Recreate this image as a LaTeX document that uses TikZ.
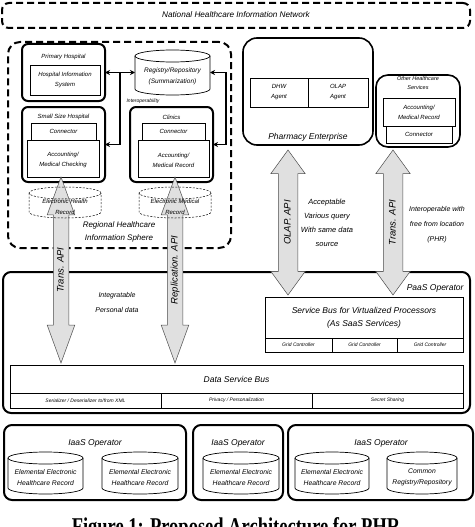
\documentclass[tikz,border=0pt]{standalone}
\usepackage{fontspec}
\setmainfont{Liberation Sans}
\newfontfamily\capfont{Liberation Serif}
\usetikzlibrary{shapes.arrows, arrows.meta}

\newcommand{\ftA}{\fontsize{5}{6}\selectfont\itshape}
\newcommand{\ftB}{\fontsize{6}{10}\selectfont\itshape}
\newcommand{\ftD}{\fontsize{8.5}{10}\selectfont\itshape}
% box from two corners: name, style, x1, y1, x2, y2
\newcommand{\mkbox}[6]{%
  \node[#2, minimum width={#5-#3}, minimum height={#6-#4}] (#1)
    at ({(#3+#5)/2},{(#4+#6)/2}) {};}
% cylinder from two corners: name, style, x1, y1, x2, y2
\newcommand{\mkdb}[6]{%
  \node[inner sep=0pt, outer sep=0pt, minimum width={#5-#3},
    minimum height={#6-#4}] (#1) at ({(#3+#5)/2},{(#4+#6)/2}) {};
  \draw[#2] (#3,#4+6) -- (#3,#6-6)
    arc[start angle=180, end angle=360, x radius={((#5-#3)/2)*1pt},
      y radius=6pt]
    -- (#5,#4+6);
  \draw[#2] ({(#3+#5)/2},#4+6)
    ellipse[x radius={((#5-#3)/2)*1pt}, y radius=6pt];}

\begin{document}
\begin{tikzpicture}[x=1pt, y=-1pt, >={Stealth[length=5pt,width=5pt]},
  box/.style={draw, inner sep=0pt, outer sep=0pt},
  hosp/.style={box, line width=2pt, rounded corners=6pt},
  region/.style={box, line width=2pt, dash pattern=on 7pt off 4pt,
    rounded corners=12pt},
  cell/.style={box, line width=0.6pt},
  db/.style={line width=0.7pt},
  erec/.style={line width=0.5pt, dash pattern=on 2pt off 1.5pt},
  link/.style={line width=1.1pt},
  bigarrow/.style={double arrow, draw=black!70, line width=0.5pt,
    fill=black!12, inner xsep=0pt, text height=6.5pt, text depth=1.5pt,
    font=\fontsize{9.5}{10}\selectfont\itshape, rotate=90}
]
\useasboundingbox (0,0) rectangle (474,527);

% National network
\mkbox{nhin}{region, rounded corners=7pt}{2}{3}{470}{28}
\node[font=\fontsize{8.2}{9}\selectfont\itshape] (nhinlbl) at (236,15)
  {National Healthcare Information Network};

% Regional sphere
\mkbox{rhis}{region}{8}{42}{231}{248}
\node[font=\fontsize{8}{12.5}\selectfont\itshape, align=center] (rhislbl)
  at (119,232) {Regional Healthcare\\Information Sphere};

% Primary hospital
\mkbox{ph}{hosp}{22}{44}{105}{101}
\node[font=\ftB] (phlbl) at (63.5,57) {Primary Hospital};
\mkbox{his}{cell}{30}{65}{100}{95}
\node[font=\ftB, align=center] (hislbl) at (his) {Hospital Information\\System};

% Registry
\mkdb{reg}{db}{135}{50}{210}{95}
\node[font=\fontsize{6.5}{11}\selectfont\itshape, align=center] (reglbl)
  at (172.5,76.5) {Registry/Repository\\(Summarization)};

% Small size hospital
\mkbox{sh}{hosp}{22}{107}{105}{182}
\node[font=\ftB] (shlbl) at (63.5,117) {Small Size Hospital};
\mkbox{shcon}{cell}{31}{123}{96}{140}
\node[font=\ftB] at (shcon) {Connector};
\mkbox{shacc}{cell}{27}{140}{99}{177}
\node[font=\ftB, align=center] at (63,160) {Accounting/\\Medical Checking};

% Clinics
\mkbox{cl}{hosp}{130}{107}{213}{182}
\node[font=\ftB] (cllbl) at (171.5,117) {Clinics};
\mkbox{clcon}{cell}{142}{123}{205}{140}
\node[font=\ftB] at (clcon) {Connector};
\mkbox{clacc}{cell}{138}{140}{209}{177}
\node[font=\ftB, align=center] at (173.5,160) {Accounting/\\Medical Record};

% Interoperability links
\coordinate (jl) at (120,72.5);
\coordinate (jr) at (226,108);
\draw[link, <->] (ph.east) -- (reg.west);
\draw[link, ->] (jl) |- (sh.east);
\draw[link, <->] (reg.east) -| (jr) |- (cl.east);
\node[font=\ftA] (iolbl) at (143,101) {Interoperability};

% Pharmacy enterprise
\mkbox{pe}{hosp, rounded corners=14pt, line width=1.6pt}{243}{38}{373}{145}
\mkbox{dhw}{cell}{250}{78}{308}{107}
\node[font=\ftB, align=center] at (dhw) {DHW\\Agent};
\mkbox{olap}{cell}{308}{78}{368}{107}
\node[font=\ftB, align=center] at (olap) {OLAP\\Agent};
\node[font=\ftD] (pelbl) at (308,137) {Pharmacy Enterprise};

% Other healthcare services
\mkbox{oh}{hosp, rounded corners=12pt, line width=1.6pt}{376}{75}{460}{147}
\node[font=\fontsize{5.5}{9}\selectfont\itshape, align=center] (ohlbl)
  at (418,83) {Other Healthcare\\Services};
\mkbox{ohacc}{cell}{383}{98}{455}{126}
\node[font=\ftB, align=center] at (ohacc) {Accounting/\\Medical Record};
\mkbox{ohcon}{cell}{386}{126}{452}{143}
\node[font=\ftB] at (ohcon) {Connector};

% PaaS operator
\mkbox{paas}{hosp, rounded corners=8pt}{3}{272}{470}{413}
\node[font=\ftD, anchor=east] (paaslbl) at (467,288) {PaaS Operator};

% Service bus
\mkbox{sbus}{cell, line width=0.8pt}{265}{297}{463}{338}
\node[font=\fontsize{8.5}{13}\selectfont\itshape, align=center] (sbuslbl)
  at (364,318) {Service Bus for Virtualized Processors\\(As SaaS Services)};
\foreach \xa/\xb [count=\i] in {265/332, 332/397, 397/463} {
  \mkbox{grid\i}{cell}{\xa}{338}{\xb}{352}
  \node[font=\ftA] at (grid\i) {Grid Controller};
}

% Data service bus
\mkbox{dbus}{cell, line width=0.8pt}{10}{365}{463}{393}
\node[font=\ftD] (dbuslbl) at (dbus) {Data Service Bus};
\mkbox{ser}{cell}{10}{393}{161}{408}
\node[font=\ftA] at (ser) {Serializer / Deserializer to/from XML};
\mkbox{priv}{cell}{161}{393}{312}{408}
\node[font=\ftA] at (priv) {Privacy / Personalization};
\mkbox{sec}{cell}{312}{393}{463}{408}
\node[font=\ftA] at (sec) {Secret Sharing};

% Big arrows
\node[bigarrow, inner ysep=3.5pt, double arrow head extend=6pt,
  double arrow tip angle=40, minimum height=186pt] (transl)
  at (61,270) {Trans. API};
\node[bigarrow, inner ysep=3.5pt, double arrow head extend=6pt,
  double arrow tip angle=40, minimum height=186pt] (repl)
  at (175,270) {Replication. API};
\node[bigarrow, inner ysep=5.5pt, double arrow head extend=7.5pt,
  double arrow tip angle=72, minimum height=145pt] (olapapi)
  at (288,222.5) {OLAP. API};
\node[bigarrow, inner ysep=5.5pt, double arrow head extend=7.5pt,
  double arrow tip angle=72, minimum height=145pt] (transr)
  at (393,222.5) {Trans. API};

% Electronic records
\mkdb{ehr}{erec}{29}{187}{101}{218}
\node[font=\fontsize{6}{11}\selectfont\itshape, align=center] at (65,206.5)
  {Electronic Health\\Record};
\mkdb{emr}{erec}{139}{187}{211}{218}
\node[font=\fontsize{6}{11}\selectfont\itshape, align=center] at (175,206.5)
  {Electronic Medical\\Record};

% Notes
\node[font=\fontsize{7.5}{14}\selectfont\itshape, align=center] (olapnote)
  at (327,223) {Acceptable\\Various query\\With same data\\source};
\node[font=\fontsize{7}{15}\selectfont\itshape, align=center] (phrnote)
  at (437,225) {Interoperable with\\free from location\\(PHR)};
\node[font=\fontsize{7}{15}\selectfont\itshape, align=center] (intnote)
  at (117,302) {Integratable\\Personal data};

% IaaS operators
\mkbox{iaasa}{hosp, rounded corners=8pt}{4}{425}{186}{500}
\node[font=\ftD] at (95,443) {IaaS Operator};
\mkbox{iaasb}{hosp, rounded corners=8pt}{193}{425}{283}{500}
\node[font=\ftD] at (238,443) {IaaS Operator};
\mkbox{iaasc}{hosp, rounded corners=8pt}{288}{425}{473}{500}
\node[font=\ftD] at (381,443) {IaaS Operator};
\foreach \nm/\xa/\xb in {eea/8/83, eeb/102/178, eec/203/279, eed/295/369} {
  \mkdb{\nm}{db}{\xa}{452}{\xb}{494}
  \node[font=\fontsize{6.8}{11.5}\selectfont\itshape, align=center]
    at ({(\xa+\xb)/2},477.5) {Elemental Electronic\\Healthcare Record};
}
\mkdb{crr}{db}{387}{452}{457}{494}
\node[font=\fontsize{6.8}{11.5}\selectfont\itshape, align=center]
  at (422,477.5) {Common\\Registry/Repository};

% Caption
\node[font=\fontsize{18.5}{22}\selectfont\capfont\bfseries, anchor=base,
  inner sep=0pt] (cap) at (236,534)
  {\scalebox{1}[1.3]{Figure 1: Proposed Architecture for PHR}};
\end{tikzpicture}
\end{document}
